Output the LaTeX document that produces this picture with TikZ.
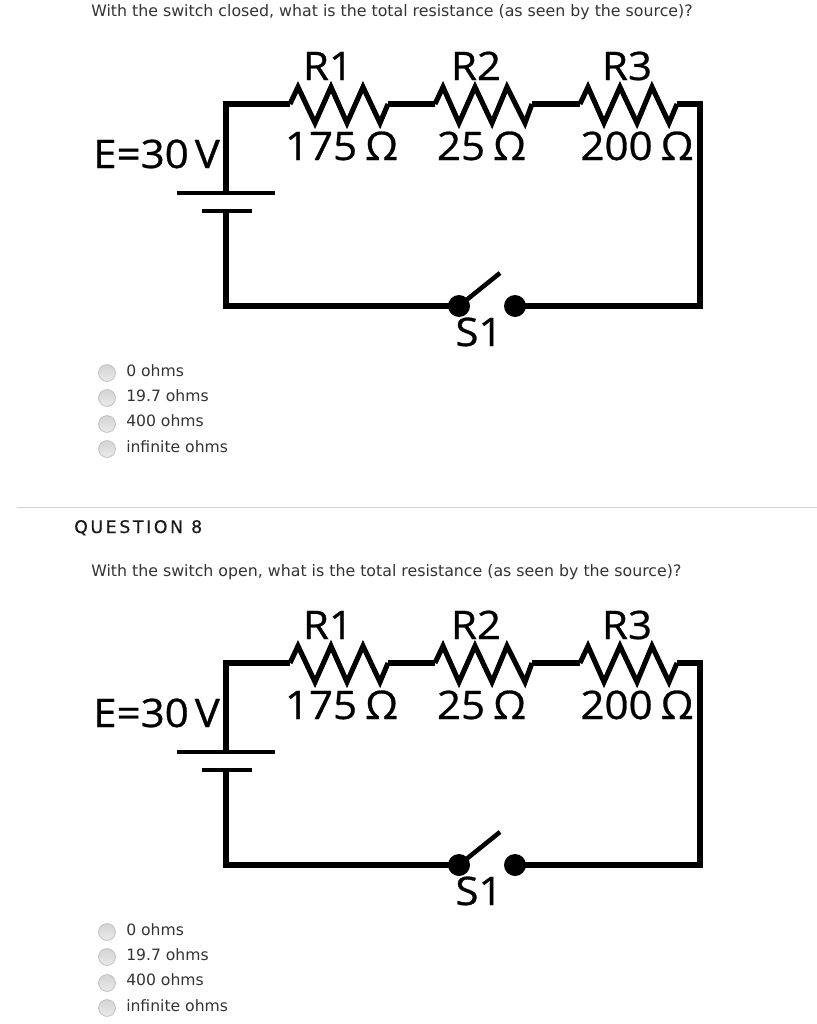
\documentclass[tikz,border=0pt]{standalone}
\usepackage{fontspec}
\setmainfont{DejaVu Sans}
\newfontfamily\circfont[FakeBold=0.7,FakeStretch=1.07]{Open Sans}
\newfontfamily\headfont[FakeBold=0.3,LetterSpace=15]{DejaVu Sans}
\tikzset{
  x=.75pt,y=-.75pt,
  wire/.style={draw=black,line width=3.8pt,line join=miter},
  res/.style={draw=black,line width=3.8pt,line join=miter},
  plate/.style={draw=black,line width=3.7pt},
  arm/.style={draw=black,line width=3.4pt},
  dot/.style={circle,fill=black,minimum size=16.5pt,inner sep=0pt},
  clabel/.style={inner sep=0pt,anchor=base,text=black,font=\circfont\fontsize{29.5}{30}\selectfont},
  qtext/.style={inner sep=0pt,anchor=base west,text=black!80,font=\fontsize{11.84}{13}\selectfont},
  opt/.style={inner sep=0pt,anchor=base west,text=black!80,font=\fontsize{11.7}{13}\selectfont},
  radio/.style={circle,draw=black!25,line width=.6pt,top color=black!17,bottom color=black!8,minimum size=12.6pt,inner sep=0pt},
  pics/circuit/.style={code={
    \coordinate (-tl) at (226,104);
    \coordinate (-tr) at (700,104);
    \coordinate (-br) at (700,306);
    \coordinate (-bl) at (226,306);
    \coordinate (-pa) at (226,193);
    \coordinate (-pb) at (226,211);
    \coordinate (-la) at (177,193);
    \coordinate (-ra) at (275,193);
    \coordinate (-lb) at (202,211);
    \coordinate (-rb) at (252,211);
    \coordinate (-r1a) at (290,104);
    \coordinate (-r1b) at (388,104);
    \coordinate (-r2a) at (435,104);
    \coordinate (-r2b) at (532,104);
    \coordinate (-r3a) at (580,104);
    \coordinate (-r3b) at (677,104);
    \coordinate (-tip) at (500,273);
    \node[dot] (-sl) at (459,306) {};
    \node[dot] (-sr) at (515,306) {};
    \draw[wire] (-pa) -- (-tl) -- (-r1a);
    \draw[wire] (-r1b) -- (-r2a);
    \draw[wire] (-r2b) -- (-r3a);
    \draw[wire] (-r3b) -- (-tr) -- (-br) -- (-sr.center);
    \draw[wire] (-sl.center) -- (-bl) -- (-pb);
    \draw[plate] (-la) -- (-ra);
    \draw[plate] (-lb) -- (-rb);
    \draw[arm] (-sl.center) -- (-tip);
    \draw[res] (-r1a) -- (298,87) -- (315,123) -- (331,87) -- (347,123) -- (363,87) -- (380,123) -- (-r1b);
    \draw[res] (-r2a) -- (443,87) -- (459,123) -- (475,87) -- (492,123) -- (507,87) -- (525,123) -- (-r2b);
    \draw[res] (-r3a) -- (588,87) -- (604,123) -- (620,87) -- (637,123) -- (652,87) -- (669,123) -- (-r3b);
    \node[clabel] (-n1) at (328,80) {R1};
    \node[clabel] (-n2) at (476,80) {R2};
    \node[clabel] (-n3) at (627,80) {R3};
    \node[clabel] (-v1) at (341.5,160) {175\hspace{6pt}Ω};
    \node[clabel] (-v2) at (481.5,160) {25\hspace{6pt}Ω};
    \node[clabel] (-v3) at (637,160) {200\hspace{6pt}Ω};
    \node[clabel] (-e) at (156.5,168) {E=30\hspace{4.5pt}V};
    \node[clabel] (-s) at (479,346) {S1};
  }},
  pics/options/.style={code={
    \node[radio] (-ra) at (107,373) {};
    \node[radio] (-rb) at (107,398) {};
    \node[radio] (-rc) at (107,424) {};
    \node[radio] (-rd) at (107,449) {};
    \node[opt] (-ta) at (126,376) {0 ohms};
    \node[opt] (-tb) at (126,401) {19.7 ohms};
    \node[opt] (-tc) at (126,426) {400 ohms};
    \node[opt] (-td) at (126,452) {infinite ohms};
  }}
}
\begin{document}
\begin{tikzpicture}
\useasboundingbox (0,0) rectangle (817,1024);
\fill[white] (0,0) rectangle (817,1024);
\node[qtext] (q1) at (91,17) {With the switch closed, what is the total resistance (as seen by the source)?};
\pic (c1) at (0,0) {circuit};
\pic (o1) at (0,0) {options};
\coordinate (dl) at (17,507);
\coordinate (dr) at (817,507);
\draw[black!18,line width=.75pt] (dl) -- (dr);
\node[inner sep=0pt,anchor=base west,text=black!90,font=\headfont\fontsize{13}{14}\selectfont] (h) at (74,533) {QUESTION 8};
\node[qtext] (q2) at (91,576) {With the switch open, what is the total resistance (as seen by the source)?};
\begin{scope}[yshift=-419.25pt]
\pic (c2) at (0,0) {circuit};
\pic (o2) at (0,0) {options};
\end{scope}
\end{tikzpicture}
\end{document}
